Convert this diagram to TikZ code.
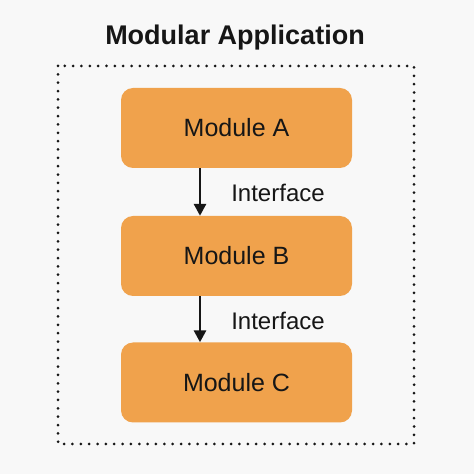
\documentclass[tikz,border=0pt]{standalone}
\usepackage{fontspec}
\setmainfont{Liberation Sans}
\usetikzlibrary{arrows.meta}
\definecolor{bg}{HTML}{F8F8F8}
\definecolor{modfill}{HTML}{F0A24C}
\definecolor{ink}{HTML}{161616}
\tikzset{
  modbox/.style={draw=none, fill=modfill, rounded corners=12pt, minimum width=231pt, minimum height=80pt, inner sep=0pt, font=\fontsize{25}{30}\selectfont, text=ink},
  iflabel/.style={font=\fontsize{24}{29}\selectfont, text=ink, inner sep=0pt},
  flow/.style={line width=2.8pt, draw=ink, -{Triangle[length=12pt,width=12pt]}},
  frame/.style={draw=ink, line width=3pt, line cap=round, dash pattern=on 0pt off 8.35pt}
}
\begin{document}
\begin{tikzpicture}[x=1pt,y=1pt]
\fill[bg] (0,0) rectangle (474,474);
\useasboundingbox (0,0) rectangle (474,474);
\node[font=\bfseries\fontsize{27}{32}\selectfont, text=ink, inner sep=0pt] (title) at (235,436) {Modular Application};
\draw[frame] (58,408) rectangle (414,30);
\node[modbox] (A) at (236.5,346) {Module A};
\node[modbox] (B) at (236.5,218) {Module B};
\node[modbox] (C) at (236.5,91.5) {Module C};
\coordinate (ax) at (200,0);
\draw[flow] (A.south -| ax) -- (B.north -| ax);
\draw[flow] (B.south -| ax) -- (C.north -| ax);
\node[iflabel] (i1) at (278,281) {Interface};
\node[iflabel] (i2) at (278,153) {Interface};
\end{tikzpicture}
\end{document}
